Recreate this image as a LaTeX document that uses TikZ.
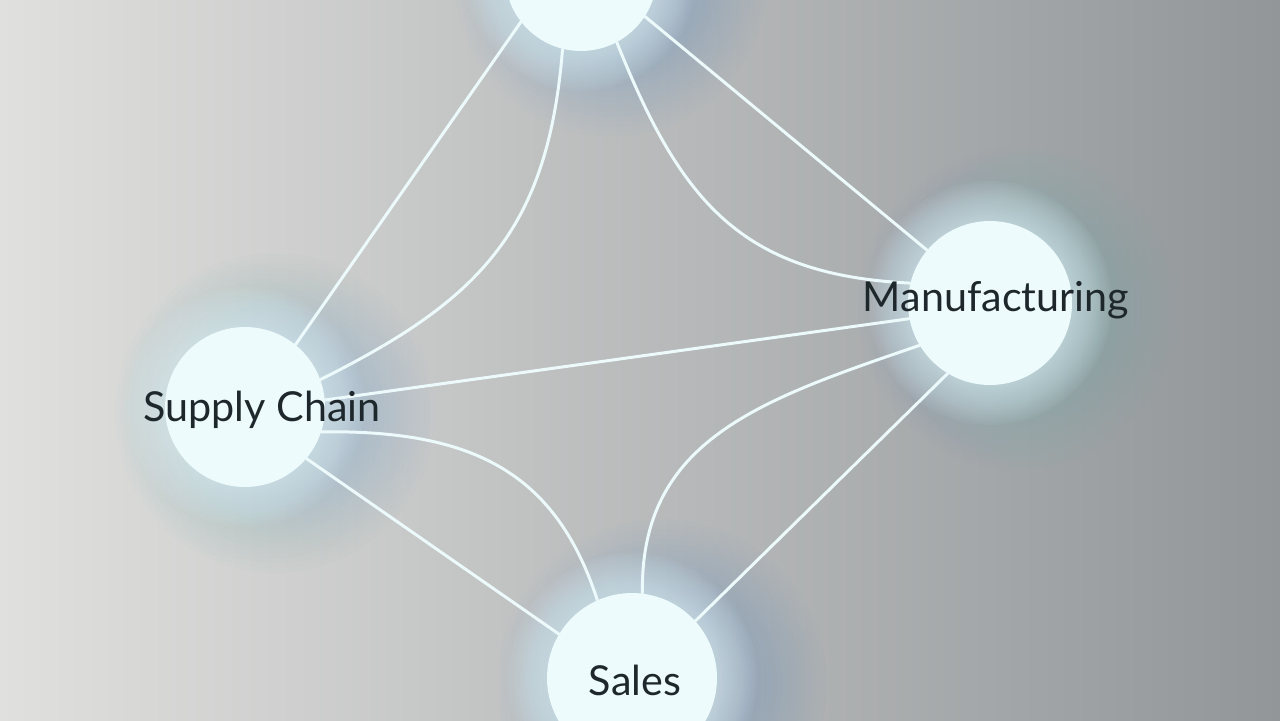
\documentclass[tikz,border=0pt]{standalone}
\usepackage{fontspec}
\setmainfont{Lato}
\definecolor{bgleft}{RGB}{224,224,222}
\definecolor{bgright}{RGB}{146,150,153}
\definecolor{orbfill}{RGB}{238,251,253}
\definecolor{halo}{RGB}{225,246,252}
\definecolor{bluehalo}{RGB}{105,165,200}
\definecolor{wirecol}{RGB}{236,250,252}
\definecolor{ink}{RGB}{30,40,44}

\begin{document}
\begin{tikzpicture}[x=0.02cm, y=-0.02cm,
        orb/.style={circle, fill=orbfill, inner sep=0pt, minimum size=#1},
        wire/.style={draw=wirecol, line width=1.7pt, line cap=round},
        lbl/.style={text=ink, font=\fontsize{23.5}{26}\selectfont}]
        \useasboundingbox (0, 0) rectangle (1280, 720);
        \clip (0, 0) rectangle (1280, 720);
        \shade [left color=bgleft, right color=bgright] (0, 0) rectangle (1280, 720);

        % soft glow behind the circles
        \foreach \cx/\cy/\r in {581/-25/76, 245/407/80, 990/303/82, 632/678/85} {
            \foreach \g in {1,...,16}
                \fill [bluehalo, opacity=0.018] (\cx + 30, \cy + 6) circle (\r + 5*\g);
            \foreach \g in {1,...,16}
                \fill [halo, opacity=0.05] (\cx, \cy) circle (\r + 2.5*\g);
        }

        \node [orb=3.04cm] (topc) at (581, -25) {};
        \node [orb=3.2cm] (supply) at (245, 407) {};
        \node [orb=3.28cm] (mfg) at (990, 303) {};
        \node [orb=3.4cm] (sales) at (632, 678) {};

        \draw [wire] (topc.-142) -- (supply.51);
        \draw [wire] (topc.-104) .. controls (548, 230) and (480, 300) .. (supply.20);
        \draw [wire] (topc.-33) -- (mfg.140);
        \draw [wire] (topc.-62) .. controls (680, 200) and (740, 275) .. (mfg.166);
        \draw [wire] (supply.5) -- (mfg.191);
        \draw [wire] (mfg.-149) .. controls (760, 400) and (640, 440) .. (sales.83);
        \draw [wire] (mfg.-121) -- (sales.42);
        \draw [wire] (supply.-18) .. controls (470, 430) and (555, 470) .. (sales.114);
        \draw [wire] (supply.-40) -- (sales.149);

        \node [lbl] (supplytxt) at (262, 410) {Supply Chain};
        \node [lbl] (mfgtxt) at (996, 300) {Manufacturing};
        \node [lbl] (salestxt) at (635, 680) {Sales};
    \end{tikzpicture}
\end{document}
